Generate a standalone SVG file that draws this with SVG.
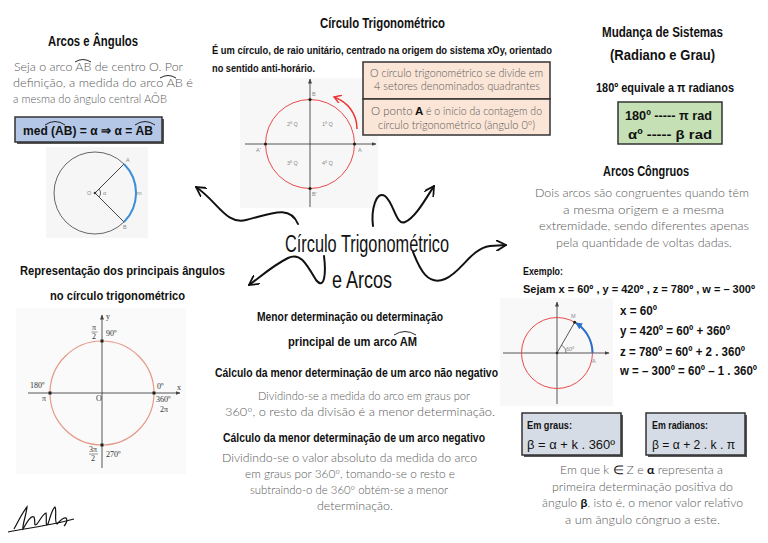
<svg xmlns="http://www.w3.org/2000/svg" width="768" height="543" viewBox="0 0 768 543">
<defs>
<style>
.t{font-family:"Liberation Sans",Arial,sans-serif;font-weight:bold;fill:#111}
.h{font-family:"Liberation Sans",Arial,sans-serif;fill:#111}
.b{font-family:Lato,"Liberation Sans",sans-serif;font-weight:300;fill:#5a5a5a;font-size:11.5px}
.s{font-family:"Liberation Serif","Times New Roman",serif;font-size:8px;fill:#333}
.q{font-family:"Liberation Sans",Arial,sans-serif;font-size:5.5px;fill:#888}
.box{stroke:#333;stroke-width:1.5}
.ax{stroke:#444;stroke-width:0.9;fill:none}
.con{fill:none;stroke:#111;stroke-width:2;stroke-linecap:round;stroke-linejoin:round}
.ov{fill:none;stroke:#111;stroke-width:0.9}
</style>
<marker id="head" viewBox="0 0 10 10" refX="9" refY="5" markerWidth="11" markerHeight="11" orient="auto" markerUnits="userSpaceOnUse">
<path d="M0,0 L9,5 L0,10" fill="none" stroke="#111" stroke-width="1.6"/>
</marker>
<marker id="axh" viewBox="0 0 10 10" refX="9" refY="5" markerWidth="5" markerHeight="5" orient="auto" markerUnits="userSpaceOnUse">
<path d="M0,1 L10,5 L0,9 z" fill="#444"/>
</marker>
<marker id="redh" viewBox="0 0 10 10" refX="8" refY="5" markerWidth="9" markerHeight="9" orient="auto" markerUnits="userSpaceOnUse">
<path d="M0,0 L8,5 L0,10" fill="none" stroke="#e33" stroke-width="1.5"/>
</marker>
<marker id="blueh" viewBox="0 0 10 10" refX="8" refY="5" markerWidth="7" markerHeight="7" orient="auto" markerUnits="userSpaceOnUse">
<path d="M0,0 L10,5 L0,10 z" fill="#2a6fc9"/>
</marker>
</defs>
<rect width="768" height="543" fill="#fff"/>

<!-- Arcos e Angulos -->
<g id="arcos-angulos">
<text class="t" x="48" y="46" font-size="14" textLength="90" lengthAdjust="spacingAndGlyphs">Arcos e Ângulos</text>
<text class="b" x="14" y="71" textLength="169" lengthAdjust="spacingAndGlyphs">Seja o arco AB  de centro O. Por</text>
<text class="b" x="13" y="87" textLength="180" lengthAdjust="spacingAndGlyphs">definição, a medida do arco AB  é</text>
<text class="b" x="13" y="103" textLength="154" lengthAdjust="spacingAndGlyphs">a mesma do ângulo central AÔB</text>
<path class="ov" d="M75,62 Q83,57 91,62"/>
<path class="ov" d="M160,78 Q168,73 176,78"/>
<rect x="17" y="119" width="147" height="25" fill="#555"/>
<rect class="box" x="15" y="117" width="147" height="25" fill="#b4c7e7"/>
<text class="t" x="23" y="135" font-size="13" textLength="130" lengthAdjust="spacingAndGlyphs">med (AB) = α ⇒ α =  AB</text>
<path class="ov" stroke-width="1.3" d="M45,125 Q55,118 65,125"/>
<path class="ov" stroke-width="1.3" d="M135,125 Q145,118 155,125"/>
<rect x="46" y="147" width="102" height="91" fill="#f6f6f6"/>
<circle cx="95" cy="193" r="41" fill="none" stroke="#666" stroke-width="1"/>
<path d="M124,164 L95,193 L124,222" fill="none" stroke="#444" stroke-width="1"/>
<path d="M124,164 A41,41 0 0,1 124,222" fill="none" stroke="#3d8fd9" stroke-width="2"/>
<path d="M99,189 A6,6 0 0,1 99,197" fill="none" stroke="#444" stroke-width="0.8"/>
<circle cx="95" cy="193" r="1.3" fill="#333"/>
<text class="q" x="87" y="195">O</text>
<text class="q" x="103" y="195">α</text>
<text class="q" x="137" y="195">m</text>
<text class="q" x="126" y="162">A</text>
<text class="q" x="123" y="229">B</text>
</g>

<!-- Circulo trigonometrico (top) -->
<g id="circulo-trigonometrico">
<text class="t" x="320" y="28" font-size="14" textLength="125" lengthAdjust="spacingAndGlyphs">Círculo Trigonométrico</text>
<text class="t" x="212" y="54" font-size="11" textLength="340" lengthAdjust="spacingAndGlyphs">É um círculo, de raio unitário, centrado na origem do sistema xOy, orientado</text>
<text class="t" x="212" y="72" font-size="11" textLength="103" lengthAdjust="spacingAndGlyphs">no sentido anti-horário.</text>
<rect x="240" y="78" width="138" height="130" fill="#f7f7f7"/>
<line class="ax" x1="245" y1="144" x2="376" y2="144" marker-end="url(#axh)"/>
<line class="ax" x1="310" y1="207" x2="310" y2="79" marker-end="url(#axh)"/>
<circle cx="310" cy="144" r="44.5" fill="none" stroke="#e84a4a" stroke-width="1"/>
<circle cx="354.5" cy="144" r="1.6" fill="#222"/>
<circle cx="265.5" cy="144" r="1.6" fill="#222"/>
<circle cx="310" cy="99.5" r="1.6" fill="#222"/>
<circle cx="310" cy="188.5" r="1.6" fill="#222"/>
<text class="q" x="312" y="96">B</text>
<text class="q" x="358" y="152">A</text>
<text class="q" x="256" y="152">A'</text>
<text class="q" x="312" y="196">B'</text>
<text class="q" x="287" y="126">2º Q</text>
<text class="q" x="322" y="126">1º Q</text>
<text class="q" x="287" y="165">3º Q</text>
<text class="q" x="322" y="165">4º Q</text>
<path d="M357,129 C357,114 348,102 334,97" fill="none" stroke="#e33" stroke-width="1.5" marker-end="url(#redh)"/>
<rect class="box" x="363" y="62" width="187" height="37" fill="#fbe5d6"/>
<rect class="box" x="363" y="99" width="187" height="36" fill="#fbe5d6"/>
<text class="b" x="370" y="77" textLength="173" lengthAdjust="spacingAndGlyphs">O círculo trigonométrico se divide em</text>
<text class="b" x="374" y="90" textLength="166" lengthAdjust="spacingAndGlyphs">4 setores denominados quadrantes</text>
<text class="b" x="371" y="115">O ponto</text>
<text class="t" x="415" y="115" font-size="11.5">A</text>
<text class="b" x="426" y="115" textLength="116" lengthAdjust="spacingAndGlyphs">é o início da contagem do</text>
<text class="b" x="378" y="129" textLength="157" lengthAdjust="spacingAndGlyphs">círculo trigonométrico (ângulo 0º)</text>
</g>

<!-- Mudanca de sistemas -->
<g id="mudanca-sistemas">
<text class="t" x="602" y="37" font-size="14" textLength="121" lengthAdjust="spacingAndGlyphs">Mudança de Sistemas</text>
<text class="t" x="610" y="60" font-size="14" textLength="105" lengthAdjust="spacingAndGlyphs">(Radiano e Grau)</text>
<text class="t" x="596" y="92" font-size="13" textLength="138" lengthAdjust="spacingAndGlyphs">180º equivale a π radianos</text>
<rect class="box" x="618" y="102" width="104" height="42" fill="#c5e0b4"/>
<text class="t" x="625" y="120" font-size="12" textLength="87" lengthAdjust="spacingAndGlyphs">180º  ----- π rad</text>
<text class="t" x="628" y="139" font-size="12" textLength="84" lengthAdjust="spacingAndGlyphs">αº  ----- β rad</text>
</g>

<!-- Arcos congruos -->
<g id="arcos-congruos">
<text class="t" x="603" y="176" font-size="14" textLength="86" lengthAdjust="spacingAndGlyphs">Arcos Côngruos</text>
<text class="b" x="535" y="197" textLength="214" lengthAdjust="spacingAndGlyphs">Dois arcos são congruentes quando têm</text>
<text class="b" x="563" y="214" textLength="161" lengthAdjust="spacingAndGlyphs">a mesma origem e a mesma</text>
<text class="b" x="539" y="230" textLength="210" lengthAdjust="spacingAndGlyphs">extremidade, sendo diferentes apenas</text>
<text class="b" x="556" y="247" textLength="176" lengthAdjust="spacingAndGlyphs">pela quantidade de voltas dadas.</text>
</g>

<!-- Representacao -->
<g id="representacao">
<text class="t" x="20" y="275" font-size="13" textLength="205" lengthAdjust="spacingAndGlyphs">Representação dos principais ângulos</text>
<text class="t" x="50" y="300" font-size="13" textLength="135" lengthAdjust="spacingAndGlyphs">no círculo trigonométrico</text>
<rect x="16" y="308" width="170" height="166" fill="#fafafa"/>
<line class="ax" x1="28" y1="393" x2="180" y2="393" marker-end="url(#axh)"/>
<line class="ax" x1="102" y1="468" x2="102" y2="315" marker-end="url(#axh)"/>
<circle cx="102" cy="393" r="52" fill="none" stroke="#e59a88" stroke-width="1.2"/>
<rect x="100.5" y="339.5" width="3" height="3" fill="#222"/>
<rect x="48.5" y="391.5" width="3" height="3" fill="#222"/>
<rect x="152.5" y="391.5" width="3" height="3" fill="#222"/>
<rect x="100.5" y="443.5" width="3" height="3" fill="#222"/>
<text class="s" x="106" y="319">y</text>
<text class="s" x="177" y="390">x</text>
<text class="s" x="92" y="330">π</text>
<line x1="91.5" y1="332" x2="97.5" y2="332" stroke="#333" stroke-width="0.5"/>
<text class="s" x="92" y="339">2</text>
<text class="s" x="106" y="336">90º</text>
<text class="s" x="30" y="388">180º</text>
<text class="s" x="42" y="401">π</text>
<text class="s" x="157" y="389">0º</text>
<text class="s" x="156" y="402">360º</text>
<text class="s" x="160" y="412">2π</text>
<text class="s" x="96" y="401">O</text>
<text class="s" x="89" y="452">3π</text>
<line x1="89" y1="454" x2="98" y2="454" stroke="#333" stroke-width="0.5"/>
<text class="s" x="91" y="461">2</text>
<text class="s" x="106" y="457">270º</text>
</g>

<!-- signature -->
<g id="assinatura">
<path d="M14,529 C18,522 22,513 27,507 C26,516 22,526 23,529 C27,522 31,515 34,517 C36,522 33,527 37,524 C40,520 43,514 46,513 C47,519 45,527 48,524 C50,518 52,509 55,507 C57,510 54,522 57,524 C60,521 63,517 66,518 C68,520 66,524 64,526" fill="none" stroke="#111" stroke-width="1.2"/>
<path d="M8,532 C22,529 40,527 62,522 L74,519" fill="none" stroke="#111" stroke-width="1.2"/>
</g>

<!-- Central title -->
<g id="titulo-central">
<text class="h" x="285" y="252" font-size="23" textLength="164" lengthAdjust="spacingAndGlyphs">Círculo Trigonométrico</text>
<text class="h" x="332" y="288" font-size="23" textLength="60" lengthAdjust="spacingAndGlyphs">e Arcos</text>
</g>

<!-- Menor determinacao -->
<g id="menor-determinacao">
<text class="t" x="257" y="321" font-size="12" textLength="186" lengthAdjust="spacingAndGlyphs">Menor determinação ou determinação</text>
<text class="t" x="288" y="346" font-size="12" textLength="129" lengthAdjust="spacingAndGlyphs">principal de um arco AM</text>
<path class="ov" stroke-width="1.2" d="M394,335 Q405,328 416,335"/>
<text class="t" x="215" y="377" font-size="12.5" textLength="283" lengthAdjust="spacingAndGlyphs">Cálculo da menor determinação de um arco não negativo</text>
<text class="b" x="258" y="400" textLength="212" lengthAdjust="spacingAndGlyphs">Dividindo-se a medida do arco em graus por</text>
<text class="b" x="225" y="416" textLength="270" lengthAdjust="spacingAndGlyphs">360º, o resto da divisão é a menor determinação.</text>
<text class="t" x="223" y="442" font-size="12.5" textLength="262" lengthAdjust="spacingAndGlyphs">Cálculo da menor determinação de um arco negativo</text>
<text class="b" x="222" y="462" textLength="255" lengthAdjust="spacingAndGlyphs">Dividindo-se o valor absoluto da medida do arco</text>
<text class="b" x="245" y="478" textLength="210" lengthAdjust="spacingAndGlyphs">em graus por 360º, tomando-se o resto e</text>
<text class="b" x="250" y="494" textLength="198" lengthAdjust="spacingAndGlyphs">subtraindo-o de 360º obtém-se a menor</text>
<text class="b" x="317" y="510" textLength="76" lengthAdjust="spacingAndGlyphs">determinação.</text>
</g>

<!-- Exemplo -->
<g id="exemplo">
<text class="t" x="523" y="275" font-size="11" textLength="40" lengthAdjust="spacingAndGlyphs">Exemplo:</text>
<text class="t" x="523" y="293" font-size="11" textLength="232" lengthAdjust="spacingAndGlyphs">Sejam x = 60º , y = 420º , z = 780º , w = – 300º</text>
<rect x="500" y="298" width="113" height="108" fill="#f8f8f8"/>
<line class="ax" x1="503" y1="353" x2="609" y2="353" marker-end="url(#axh)"/>
<line class="ax" x1="557" y1="404" x2="557" y2="302" marker-end="url(#axh)"/>
<circle cx="557" cy="353" r="35.5" fill="none" stroke="#e84a4a" stroke-width="1"/>
<line x1="557" y1="353" x2="574.7" y2="322.3" stroke="#444" stroke-width="0.9"/>
<path d="M566,353 A9,9 0 0,0 561.5,345.2" fill="none" stroke="#444" stroke-width="0.7"/>
<path d="M592.5,353 A35.5,35.5 0 0,0 576.5,323.3" fill="none" stroke="#2a6fc9" stroke-width="2" marker-end="url(#blueh)"/>
<circle cx="574.7" cy="322.3" r="1.5" fill="#222"/>
<circle cx="557" cy="353" r="1.3" fill="#222"/>
<text class="q" x="571" y="318" font-size="6.5">M</text>
<text class="q" x="566" y="351" font-size="6">60º</text>
<text class="q" x="592" y="363" font-size="6.5">A</text>
<text class="t" x="620" y="315" font-size="12" textLength="37" lengthAdjust="spacingAndGlyphs">x = 60º</text>
<text class="t" x="620" y="335" font-size="12" textLength="110" lengthAdjust="spacingAndGlyphs">y = 420º = 60º + 360º</text>
<text class="t" x="620" y="356" font-size="12" textLength="125" lengthAdjust="spacingAndGlyphs">z = 780º = 60º + 2 . 360º</text>
<text class="t" x="620" y="375" font-size="12" textLength="137" lengthAdjust="spacingAndGlyphs">w = – 300º = 60º – 1 . 360º</text>
<rect x="524" y="415" width="99" height="42" fill="#555"/>
<rect class="box" x="522" y="413" width="99" height="42" fill="#d6dce5"/>
<rect x="648" y="415" width="99" height="42" fill="#555"/>
<rect class="box" x="646" y="413" width="99" height="42" fill="#d6dce5"/>
<text class="t" x="527" y="429" font-size="10.5" textLength="45" lengthAdjust="spacingAndGlyphs">Em graus:</text>
<text class="h" x="527" y="449" font-size="13" textLength="88" lengthAdjust="spacingAndGlyphs">β = α + k . 360º</text>
<text class="t" x="652" y="429" font-size="10.5" textLength="56" lengthAdjust="spacingAndGlyphs">Em radianos:</text>
<text class="h" x="652" y="449" font-size="13" textLength="83" lengthAdjust="spacingAndGlyphs">β = α + 2 . k . π</text>
<text class="b" x="560" y="474" textLength="163" lengthAdjust="spacingAndGlyphs">Em que k <tspan fill="#111">∈</tspan> Z e <tspan font-weight="bold" fill="#111">α</tspan> representa a</text>
<text class="b" x="552" y="491" textLength="181" lengthAdjust="spacingAndGlyphs">primeira determinação positiva do</text>
<text class="b" x="542" y="507" textLength="201" lengthAdjust="spacingAndGlyphs">ângulo <tspan font-weight="bold" fill="#111">β</tspan>, isto é, o menor valor relativo</text>
<text class="b" x="565" y="524" textLength="155" lengthAdjust="spacingAndGlyphs">a um ângulo côngruo a este.</text>
</g>

<!-- connectors -->
<g id="connectors">
<path class="con" d="M298,224 C290,204 270,214 246,220 C226,225 218,202 196,187" marker-end="url(#head)"/>
<path class="con" d="M373,226 C371,210 376,190 385,196 C394,203 396,226 405,222 C415,218 425,200 434,186" marker-end="url(#head)"/>
<path class="con" d="M413,252 C420,270 428,286 445,279 C462,272 470,249 490,246 L506,245" marker-end="url(#head)"/>
<path class="con" d="M324,256 C326,272 325,291 316,280 C306,263 300,252 288,258 C272,266 259,278 249,285" marker-end="url(#head)"/>
</g>
</svg>
